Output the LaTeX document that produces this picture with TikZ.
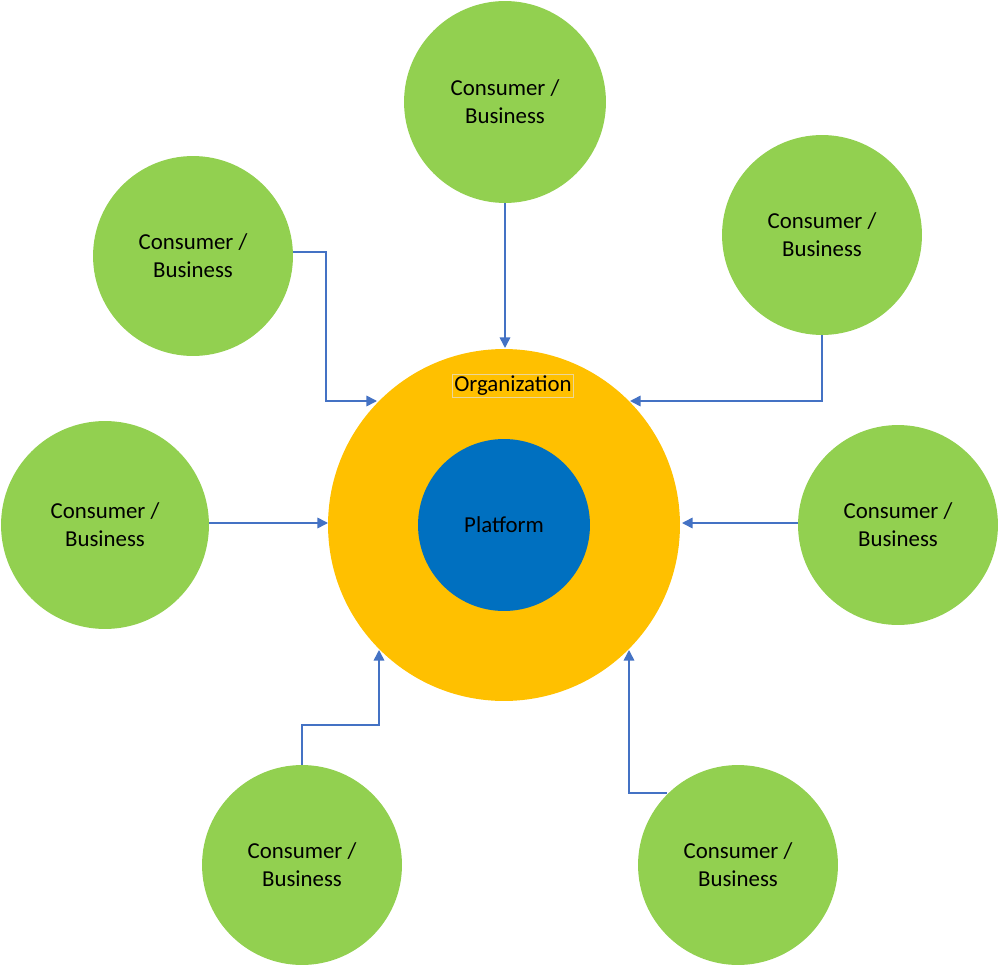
\documentclass[tikz,border=0pt]{standalone}
\usepackage{fontspec}
\setmainfont{Carlito}
\usetikzlibrary{arrows.meta}
\definecolor{cg}{RGB}{146,208,80}
\definecolor{co}{RGB}{255,192,0}
\definecolor{cb}{RGB}{0,112,192}
\definecolor{ca}{RGB}{68,114,196}
\begin{document}
\begin{tikzpicture}[x=0.02cm,y=-0.02cm,
  cons/.style={circle,fill=cg,minimum size=#1*0.04cm,inner sep=0pt,align=center,font=\fontsize{13}{16}\selectfont},
  arr/.style={draw=ca,line width=0.9pt,-{Triangle[length=6pt,width=6pt]}}]
\useasboundingbox (0,0) rectangle (1000,966);
\node[circle,fill=co,minimum size=7.04cm,inner sep=0pt] (org) at (504,525) {};
\node[circle,fill=cb,minimum size=3.44cm,inner sep=0pt,font=\fontsize{13}{16}\selectfont] (plat) at (504,525) {Platform};
\node[draw=co!80!black!40,line width=0.2pt,font=\fontsize{13}{16}\selectfont,inner sep=1pt] (orgl) at (513,386) {Organization};
\node[cons=101] (t) at (505,102) {Consumer /\\Business};
\node[cons=100] (ul) at (193,256) {Consumer /\\Business};
\node[cons=100] (ur) at (822,235) {Consumer /\\Business};
\node[cons=104] (l) at (105,525) {Consumer /\\Business};
\node[cons=100] (r) at (898,525) {Consumer /\\Business};
\node[cons=100] (bl) at (302,865) {Consumer /\\Business};
\node[cons=100] (br) at (738,865) {Consumer /\\Business};
\coordinate (pt) at (505,348);
\coordinate (pul) at (377,401);
\coordinate (pur) at (630,401);
\coordinate (pl) at (328,523);
\coordinate (pr) at (682,523);
\coordinate (pbl) at (379,650);
\coordinate (pbr) at (629,650);
\draw[arr] (t.south) -- (pt);
\draw[arr] (293,252) -- (326,252) -- (326,401) -- (pul);
\draw[arr] (ur.south) -- (822,401) -- (pur);
\draw[arr] (209,523) -- (pl);
\draw[arr] (798,523) -- (pr);
\draw[arr] (bl.north) -- (302,725) -- (379,725) -- (pbl);
\draw[arr] (667,793) -- (629,793) -- (pbr);
\end{tikzpicture}
\end{document}
